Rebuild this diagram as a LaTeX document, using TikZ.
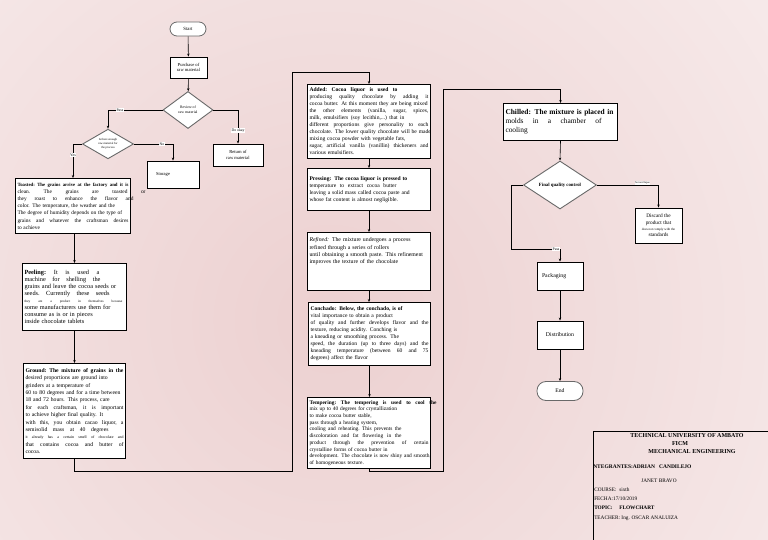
\documentclass[tikz,border=0pt]{standalone}
\usepackage{fontspec}
\setmainfont{Liberation Serif}
\usetikzlibrary{arrows.meta,shapes.geometric}

\definecolor{bgpink}{RGB}{236,208,208}
\definecolor{edgegray}{RGB}{105,105,105}

% one line of a box: words spread over the given width
\def\jlwords#1 #2\jlend{#1\if\relax\detokenize{#2}\relax\else\hfill\jlwords#2\jlend\fi}
\newcommand\jw[2]{\hbox to#1{\jlwords#2 \jlend}}
\newcommand\jl[1]{\jw{\hsize}{#1}}
\newcommand\rl[1]{\hbox{#1}}

\begin{document}
\begin{tikzpicture}[x=1pt,y=-1pt,line width=.5pt,
  conn/.style={-{Stealth[length=3pt,width=2.4pt]},line width=.6pt},
  box/.style={draw,line width=1pt,fill=white,inner sep=2pt,anchor=north west,font=\fontsize{5.6}{7}\selectfont},
  sbox/.style={draw,line width=.9pt,fill=white,inner sep=1pt,align=center,font=\fontsize{4.6}{5.8}\selectfont},
  diam/.style={diamond,draw=edgegray,line width=.9pt,fill=white,inner sep=0pt,align=center,font=\fontsize{3.8}{4.7}\selectfont},
  term/.style={draw=edgegray,line width=.8pt,fill=white,rounded corners=7pt,font=\fontsize{4.8}{5}\selectfont},
  lbl/.style={fill=white,inner sep=.6pt,font=\fontsize{3.8}{4}\selectfont},
  info/.style={anchor=west,inner sep=0pt,font=\fontsize{5.3}{6}\selectfont}]
\path[use as bounding box] (0,0) rectangle (768,540);
% background
\begin{scope}
\clip (0,0) rectangle (768,540);
\shade[inner color=bgpink,outer color=white] (-670,-680) rectangle (1330,1320);
\end{scope}

% receiving the raw material
\node[term,minimum width=36pt,minimum height=14pt] (start) at (188,29) {Start};
\node[sbox,minimum width=37pt,minimum height=21pt] (buy) at (188.5,67.5) {Purchase of\\ raw material};
\node[diam,minimum width=50pt,minimum height=37pt] (review) at (188,110) {Review of\\ raw material};
\node[diam,minimum width=51pt,minimum height=28pt,font=\fontsize{3}{3.8}\selectfont] (enough) at (108,144) {Is there enough\\ raw material for\\ the process};
\node[sbox,minimum width=52pt,minimum height=27pt,text width=34pt,align=left] (storage) at (173,174.5) {Storage};
\node[sbox,minimum width=50pt,minimum height=22pt] (back) at (238,155) {Return of\\ raw material};

% left column
\node[box,text width=111pt,minimum height=55pt,font=\fontsize{5.4}{7.2}\selectfont] (toast) at (15,178) {%
\jl{\fontsize{4.8}{7.2}\selectfont\bfseries Toasted: The grains arrive at the factory and it is}
\jw{128pt}{clean. The grains are toasted or}
\jw{116pt}{they roast to enhance the flavor and}
\rl{color. The temperature, the weather and the}
\rl{The degree of humidity depends on the type of}
\jl{grains and whatever the craftsman desires}
\rl{to achieve}};
\node[box,text width=100pt,minimum height=67pt,font=\fontsize{6.3}{7}\selectfont] (peel) at (22,263) {%
\jw{75pt}{\textbf{Peeling:} It is used a}
\jw{76pt}{machine for shelling the}
\rl{grains and leave the cocoa seeds or}
\jw{85pt}{seeds. Currently these seeds}
\jw{98pt}{\fontsize{3.4}{4}\selectfont they are a product in themselves because}
\rl{some manufacturers use them for}
\rl{consume as is or in pieces}
\rl{inside chocolate tablets}};
\node[box,text width=98pt,minimum height=95pt,font=\fontsize{5.7}{7.4}\selectfont] (grind) at (23,363) {%
\jl{\bfseries Ground: The mixture of grains in the}
\rl{desired proportions are ground into}
\rl{grinders at a temperature of}
\rl{60 to 80 degrees and for a time between}
\rl{18 and 72 hours. This process, care}
\jl{for each craftsman, it is important}
\rl{to achieve higher final quality. It}
\jl{with this, you obtain cacao liquor, a}
\jw{83pt}{semisolid mass at 40 degrees}
\jl{\fontsize{3.9}{4}\selectfont it already has a certain smell of chocolate and}
\jl{that contains cocoa and butter of}
\rl{cocoa.}};

% middle column
\node[box,text width=119pt,minimum height=74pt] (add) at (307,84) {%
\jw{88pt}{\bfseries Added: Cocoa liquor is used to}
\jl{producing quality chocolate by adding it}
\rl{cocoa butter. At this moment they are being mixed}
\jl{the other elements (vanilla, sugar, spices,}
\jw{95pt}{milk, emulsifiers (soy lecithin,...) that in}
\jl{different proportions give personality to each}
\rl{chocolate. The lower quality chocolate will be made}
\rl{mixing cocoa powder with vegetable fats,}
\jl{sugar, artificial vanilla (vanillin) thickeners and}
\rl{various emulsifiers.}};
\node[box,text width=119pt,minimum height=42pt] (press) at (307,168) {%
\rl{\textbf{Pressing: The cocoa liquor is pressed to}}
\jw{87pt}{temperature to extract cocoa butter}
\rl{leaving a solid mass called cocoa paste and}
\rl{whose fat content is almost negligible.}};
\node[box,text width=119pt,minimum height=58pt,font=\fontsize{5.8}{7.4}\selectfont] (refine) at (307,232) {%
\rl{\textit{Refined:} The mixture undergoes a process}
\rl{refined through a series of rollers}
\rl{until obtaining a smooth paste. This refinement}
\rl{improves the texture of the chocolate}
\vskip 14pt\null};
\node[box,text width=118pt,minimum height=63pt] (conch) at (308,302) {%
\rl{\textbf{Conchado: Below, the conchado, is of}}
\rl{vital importance to obtain a product}
\jl{of quality and further develops flavor and the}
\rl{texture, reducing acidity. Conching is}
\rl{a kneading or smoothing process. The}
\jl{speed, the duration (up to three days) and the}
\jl{kneading temperature (between 60 and 75}
\rl{degrees) affect the flavor}};
\node[box,text width=119pt,minimum height=71pt,font=\fontsize{5.4}{6.7}\selectfont] (temper) at (307,397) {%
\jw{127pt}{\bfseries Tempering: The tempering is used to cool the}
\rl{mix up to 40 degrees for crystallization}
\rl{to make cocoa butter stable,}
\rl{pass through a heating system,}
\jw{92pt}{cooling and reheating. This prevents the}
\jw{92pt}{discoloration and fat flowering in the}
\jl{product through the prevention of certain}
\rl{crystalline forms of cocoa butter in}
\rl{development. The chocolate is now shiny and smooth,}
\rl{of homogeneous texture.}};

% right column
\node[box,text width=110pt,minimum height=37pt,font=\fontsize{7.4}{9}\selectfont] (chill) at (503,103) {%
\rl{\textbf{Chilled: The mixture is placed in}}
\jw{96pt}{molds in a chamber of}
\rl{cooling}};
\node[diam,minimum width=73pt,minimum height=48pt,font=\bfseries\fontsize{4.8}{5.5}\selectfont] (check) at (560,185) {Final quality control};
\node[sbox,minimum width=47pt,minimum height=35pt,font=\fontsize{5.3}{6.3}\selectfont] (discard) at (658.5,225.5) {Discard the\\ product that\\ {\fontsize{3.3}{4}\selectfont does not comply with the}\\ standards};
\node[sbox,minimum width=46pt,minimum height=28pt,text width=36pt,align=left,font=\fontsize{5.8}{6.5}\selectfont] (pack) at (560,276) {Packaging};
\node[sbox,minimum width=46pt,minimum height=28pt,font=\fontsize{5.8}{6.5}\selectfont] (distrib) at (560,335) {Distribution};
\node[term,minimum width=46pt,minimum height=19pt,rounded corners=9pt,font=\fontsize{5.6}{6}\selectfont] (end) at (560,391) {End};

% bends of the long connectors
\coordinate (passbend) at (511,249);
\coordinate (lowleft) at (292,471);
\coordinate (topleft) at (292,72);
\coordinate (lowright) at (443,471);
\coordinate (topright) at (443,89);

% connectors
\draw[conn] (start) -- (buy);
\draw[conn] (buy) -- (review);
\draw[conn] (review.west) -| (enough.north) node[lbl,pos=.39] {Pass};
\draw[conn] (review.east) -| (back.north) node[lbl,pos=.81] {Do okay};
\draw[conn] (enough.west) -| (toast.north) node[lbl,pos=.66] {Yes};
\draw[conn] (enough.east) -| (storage.north) node[lbl,pos=.36] {No};
\draw[conn] (peel.north |- toast.south) -- (peel.north);
\draw[conn] (peel.south) -- (grind.north);
\draw[conn] (grind.south) |- (lowleft) -- (topleft) -| (add.north);
\draw[conn] (add.south) -- (press.north);
\draw[conn] (press.south) -- (refine.north);
\draw[conn] (refine.south) -- (refine.south |- conch.north);
\draw[conn] (conch.south) -- (conch.south |- temper.north);
\draw[conn] (temper.south) |- (lowright) -- (topright) -| (chill.north);
\draw[conn] (chill.south) -- (check.north);
\draw[conn] (check.east) -| (discard.north) node[lbl,pos=.37,anchor=south,font=\fontsize{2.8}{3}\selectfont] {Second lapse};
\draw[conn] (check.west) -| (passbend) -| (pack.north) node[lbl,pos=.46] {Pass};
\draw[conn] (pack) -- (distrib);
\draw[conn] (distrib) -- (end);

% title block
\node[draw,line width=.6pt,anchor=north west,minimum width=180pt,minimum height=112pt,inner sep=0pt] (titleblk) at (593,431) {};
\node[info,anchor=center,font=\bfseries\fontsize{6}{7}\selectfont] (uni) at (687,436) {TECHNICAL UNIVERSITY OF AMBATO};
\node[info,anchor=center,font=\bfseries\fontsize{6}{7}\selectfont] (fac) at (680,444) {FICM};
\node[info,anchor=center,font=\bfseries\fontsize{6}{7}\selectfont] (career) at (692,452) {MECHANICAL ENGINEERING};
\node[info,font=\bfseries\fontsize{5.5}{6}\selectfont] (members) at (593,467) {NTEGRANTES:ADRIAN\ \ \ CANDILEJO};
\node[info] (member2) at (641,481) {JANET BRAVO};
\node[info] (course) at (594,490) {COURSE:\ \ sixth};
\node[info] (date) at (594,499) {FECHA:17/10/2019};
\node[info,font=\bfseries\fontsize{5.3}{6}\selectfont] (topic) at (594,508) {TOPIC:\ \ \ \ \ FLOWCHART};
\node[info] (teacher) at (594,518) {TEACHER: Ing. OSCAR ANALUIZA};
\end{tikzpicture}
\end{document}
